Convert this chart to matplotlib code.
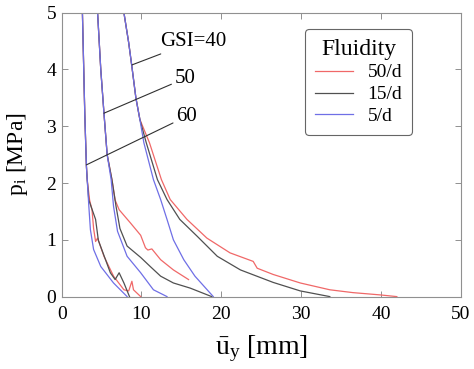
import numpy as np
import matplotlib
matplotlib.use('agg')
import matplotlib.pyplot as plt

plt.rcParams['font.family'] = ['Liberation Serif', 'DejaVu Serif']
plt.rcParams['mathtext.fontset'] = 'custom'
plt.rcParams['mathtext.rm'] = 'Liberation Serif'
plt.rcParams['mathtext.it'] = 'Liberation Serif:italic'

# GSI = 60
u60_red = [2.6, 2.9, 3.1, 3.2, 3.5, 3.8, 4.0, 4.25, 4.5, 5.3, 6.5, 7.8, 8.4, 8.8, 9.0, 9.9]
p60_red = [5.0, 3.2, 2.3, 2.06, 1.7, 1.53, 1.2, 0.97, 1.03, 0.71, 0.36, 0.12, 0.1, 0.27, 0.12, 0.0]
u60_blk = [2.6, 2.9, 3.1, 3.2, 3.4, 4.25, 4.6, 5.1, 6.1, 6.7, 7.2, 7.8, 8.5]
p60_blk = [5.0, 3.2, 2.3, 2.06, 1.7, 1.36, 0.99, 0.8, 0.42, 0.3, 0.42, 0.24, 0.0]
u60_blu = [2.6, 2.9, 3.1, 3.2, 3.4, 3.6, 4.0, 4.9, 6.5, 8.2]
p60_blu = [5.0, 3.2, 2.3, 2.06, 1.6, 1.18, 0.83, 0.53, 0.24, 0.0]

# GSI = 50
u50_red = [4.5, 4.9, 5.3, 5.7, 6.3, 6.7, 7.2, 8.6, 9.9, 10.5, 10.8, 11.3, 12.4, 14.0, 15.9]
p50_red = [5.0, 4.0, 3.23, 2.5, 2.06, 1.7, 1.53, 1.3, 1.08, 0.86, 0.82, 0.84, 0.65, 0.47, 0.3]
u50_blk = [4.5, 4.9, 5.3, 5.7, 6.3, 6.8, 7.3, 8.2, 9.9, 11.1, 12.4, 14.0, 16.1, 18.8]
p50_blk = [5.0, 4.0, 3.23, 2.5, 2.06, 1.6, 1.2, 0.89, 0.69, 0.53, 0.36, 0.24, 0.15, 0.0]
u50_blu = [4.5, 4.9, 5.3, 5.7, 6.2, 6.5, 7.0, 8.2, 9.9, 11.5, 13.2]
p50_blu = [5.0, 4.0, 3.23, 2.5, 2.06, 1.59, 1.15, 0.71, 0.42, 0.12, 0.0]

# GSI = 40
u40_red = [7.8, 8.4, 8.8, 9.3, 9.8, 11.0, 12.5, 13.6, 15.7, 18.2, 21.1, 24.0, 24.5, 26.5, 29.9, 33.6, 36.5, 39.9, 42.0]
p40_red = [5.0, 4.47, 4.05, 3.5, 3.12, 2.71, 2.06, 1.71, 1.36, 1.03, 0.77, 0.62, 0.5, 0.39, 0.24, 0.12, 0.07, 0.03, 0.0]
u40_blk = [7.8, 8.4, 8.8, 9.3, 9.8, 10.6, 12.0, 13.2, 14.8, 17.0, 19.5, 22.4, 26.5, 29.9, 33.6]
p40_blk = [5.0, 4.47, 4.05, 3.5, 3.12, 2.71, 2.06, 1.71, 1.36, 1.06, 0.71, 0.47, 0.25, 0.1, 0.0]
u40_blu = [7.8, 8.4, 8.8, 9.3, 9.8, 10.3, 11.5, 12.4, 13.2, 14.0, 15.3, 16.7, 19.0]
p40_blu = [5.0, 4.47, 4.05, 3.5, 3.12, 2.71, 2.06, 1.71, 1.36, 1.0, 0.65, 0.36, 0.0]

fluidity = ['50/d', '15/d', '5/d']
colors = ['#f06868', '#505050', '#6f6fe6']

fig = plt.figure(figsize=(4.74, 3.69), dpi=100)
ax = fig.add_axes([0.1301, 0.1962, 0.8418, 0.7694])

groups = [
    (u40_red, p40_red, u40_blk, p40_blk, u40_blu, p40_blu),
    (u50_red, p50_red, u50_blk, p50_blk, u50_blu, p50_blu),
    (u60_red, p60_red, u60_blk, p60_blk, u60_blu, p60_blu),
]
for i, g in enumerate(groups):
    for k in range(3):
        lab = fluidity[k] if i == 0 else None
        ax.plot(g[2 * k], g[2 * k + 1], color=colors[k], lw=0.9, label=lab)

# GSI labels with leader lines
ax.annotate('GSI=40', xy=(8.8, 4.08), xytext=(12.3, 4.49), fontsize=15,
            va='center', ha='left',
            arrowprops=dict(arrowstyle='-', color='#303030', lw=0.8, shrinkA=0, shrinkB=0))
ax.annotate('50', xy=(5.3, 3.23), xytext=(14.1, 3.84), fontsize=15,
            va='center', ha='left',
            arrowprops=dict(arrowstyle='-', color='#303030', lw=0.8, shrinkA=0, shrinkB=0))
ax.annotate('60', xy=(3.1, 2.32), xytext=(14.3, 3.17), fontsize=15,
            va='center', ha='left',
            arrowprops=dict(arrowstyle='-', color='#303030', lw=0.8, shrinkA=0, shrinkB=0))

ax.set_xlim(0, 50)
ax.set_ylim(0, 5)
ax.set_xticks([0, 10, 20, 30, 40, 50])
ax.set_yticks([0, 1, 2, 3, 4, 5])
ax.tick_params(direction='in', top=True, right=True, labelsize=14,
               color='#909090', length=4, width=0.7, pad=4)
ax.tick_params(axis='x', pad=7)
for s in ax.spines.values():
    s.set_color('#909090')
    s.set_linewidth(0.8)

ax.set_xlabel(r'$\bar{\mathrm{u}}_\mathrm{y}$ [mm]', fontsize=20, labelpad=7)
ax.set_ylabel(r'$\mathrm{p}_\mathrm{i}$ [MPa]', fontsize=17, labelpad=12)

leg = ax.legend(title='Fluidity', loc='upper right', bbox_to_anchor=(0.878, 0.943),
                borderaxespad=0, fontsize=14, title_fontsize=17, frameon=True,
                fancybox=True, handlelength=1.95, handletextpad=0.75,
                labelspacing=0.22, borderpad=0.5)
leg.get_frame().set_edgecolor('#404040')
leg.get_frame().set_linewidth(0.8)

fig.savefig('out.png', dpi=100)
